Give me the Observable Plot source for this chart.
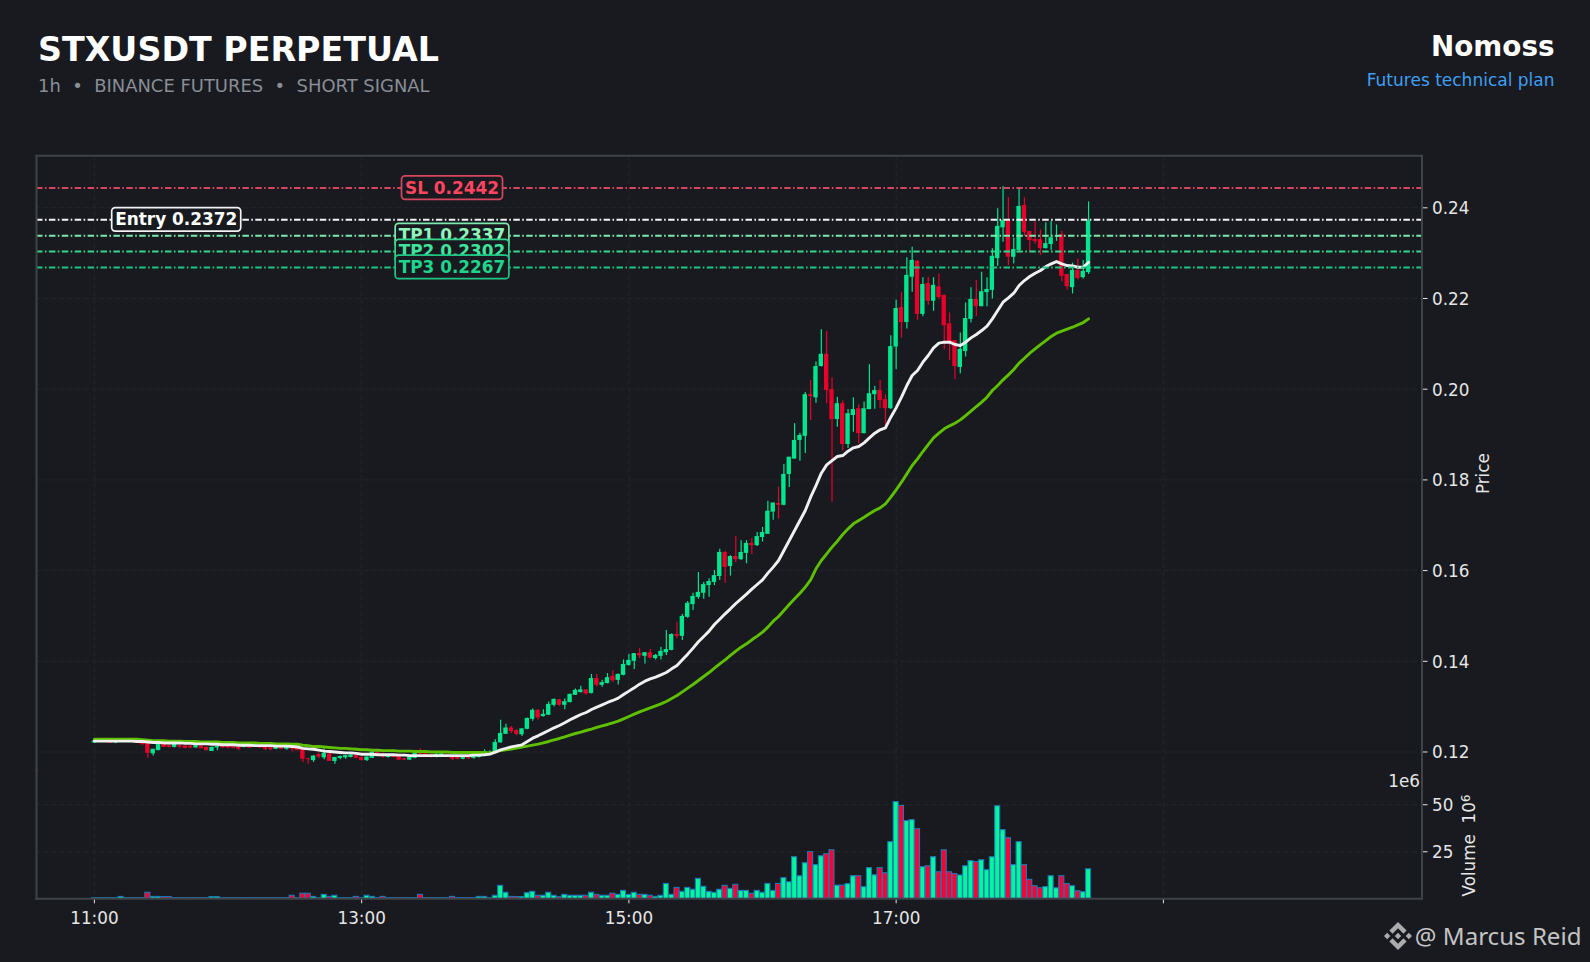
<!DOCTYPE html>
<html><head><meta charset="utf-8">
<script src="https://cdn.jsdelivr.net/npm/d3@7"></script>
<script src="https://cdn.jsdelivr.net/npm/@observablehq/plot@0.6"></script>
<style>
html,body{margin:0;padding:0;background:#181a20;width:1590px;height:962px;overflow:hidden;font-family:"DejaVu Sans",sans-serif}
#page{position:relative;width:1590px;height:962px}
#page svg.plot{position:absolute;left:0;top:0;background:transparent!important}
.t{position:absolute;white-space:pre;line-height:1}
</style></head><body><div id="page">
<div class="t" id="title" style="left:38px;top:33px;font-size:33.3px;font-weight:700;color:#fff">STXUSDT PERPETUAL</div>
<div class="t" id="sub" style="left:38px;top:77px;font-size:17.95px;color:#8a8e95">1h  •  BINANCE FUTURES  •  SHORT SIGNAL</div>
<div class="t" id="brand" style="right:35.5px;top:33px;font-size:27.8px;font-weight:700;color:#fff">Nomoss</div>
<div class="t" id="tag" style="right:35.5px;top:72px;font-size:17px;color:#3f9ff0">Futures technical plan</div>
<svg id="logo" style="position:absolute;left:1384px;top:922px;opacity:.8" width="28" height="28" viewBox="0 0 126.61 126.61"><path fill="#d0d0d0" d="M38.73 53.2l24.59-24.58 24.6 24.6 14.3-14.31L63.32 0 24.42 38.9zM0 63.31l14.3-14.31 14.31 14.31L14.3 77.61zM38.73 73.41l24.59 24.59 24.6-24.6 14.31 14.29-38.9 38.91-38.91-38.88zM98 63.31l14.3-14.31 14.31 14.3-14.31 14.32zM77.83 63.3L63.32 48.78 52.59 59.51l-1.24 1.23-2.54 2.54 14.51 14.5 14.51-14.47z"/></svg>
<div class="t" id="mark" style="right:8.5px;top:923.5px;font-size:24.1px;font-family:'Noto Sans';color:#c4c4c4">@ Marcus Reid</div>
</div>
<script>
const opens=[
.1220,.1222,.1222,.1223,.1220,.1222,.1222,.1223,.1223,.1222,
.1220,.1196,.1203,.1218,.1214,.1210,.1214,.1213,.1213,.1209,
.1213,.1210,.1201,.1209,.1212,.1212,.1211,.1210,.1210,.1213,
.1211,.1213,.1210,.1209,.1206,.1211,.1206,.1211,.1209,.1206,
.1185,.1181,.1194,.1187,.1196,.1179,.1186,.1187,.1188,.1192,
.1188,.1181,.1186,.1200,.1196,.1188,.1192,.1191,.1185,.1182,
.1186,.1199,.1196,.1194,.1188,.1191,.1193,.1189,.1189,.1184,
.1189,.1186,.1188,
.1198,.1197,.1200,.1220,.1239,.1253,.1247,.1238,.1250,.1272,
.1292,.1278,.1281,.1303,.1315,.1303,.1309,.1325,.1331,.1337,
.1329,.1362,.1347,.1351,.1367,.1358,.1369,.1391,.1400,.1417,
.1411,.1419,.1406,.1411,.1419,.1424,.1459,.1455,.1497,.1525,
.1541,.1550,.1567,.1574,.1587,.1640,.1609,.1631,.1624,.1638,
.1660,.1655,.1673,.1680,.1729,.1748,
.1744,.1812,.1846,.1887,.1896,.1988,.1981,.2050,.2077,.1999,
.1933,.1968,.1878,.1942,.1957,.1902,.1955,.1988,.1997,.1977,
.1957,.2093,.2180,.2147,.2247,.2282,.2165,.2233,.2194,.2226,
.2207,.2144,.2107,.2048,.2083,.2154,.2198,.2182,.2213,.2218,
.2288,.2356,.2372,.2291,.2306,.2405,.2348,.2330,.2330,.2310,
.2319,.2336,.2341,.2253,.2224,.2262,.2246,.2257];
const highs=[
.1224,.1224,.1224,.1224,.1223,.1224,.1223,.1224,.1224,.1223,
.1221,.1206,.1218,.1219,.1216,.1217,.1216,.1214,.1214,.1215,
.1215,.1211,.1211,.1213,.1213,.1213,.1213,.1212,.1216,.1215,
.1217,.1214,.1211,.1211,.1212,.1212,.1213,.1212,.1210,.1207,
.1186,.1192,.1198,.1207,.1198,.1188,.1191,.1193,.1194,.1193,
.1189,.1189,.1201,.1202,.1198,.1194,.1194,.1192,.1186,.1189,
.1198,.1207,.1198,.1195,.1196,.1198,.1195,.1191,.1190,.1191,
.1190,.1191,.1193,
.1205,.1203,.1227,.1270,.1261,.1256,.1249,.1251,.1275,.1295,
.1293,.1293,.1310,.1317,.1316,.1317,.1328,.1339,.1345,.1337,
.1371,.1371,.1358,.1373,.1379,.1372,.1403,.1415,.1417,.1428,
.1419,.1426,.1415,.1431,.1468,.1461,.1486,.1503,.1532,.1550,
.1596,.1574,.1582,.1600,.1647,.1642,.1633,.1675,.1666,.1666,
.1671,.1684,.1695,.1753,.1749,.1784,
.1834,.1850,.1924,.1903,.1993,.2019,.2060,.2131,.2127,.2025,
.1982,.1974,.1955,.1981,.1966,.1972,.2054,.2006,.2019,.1988,
.2118,.2196,.2213,.2290,.2313,.2284,.2246,.2247,.2246,.2254,
.2207,.2168,.2107,.2124,.2190,.2224,.2240,.2258,.2246,.2310,
.2398,.2447,.2422,.2333,.2442,.2422,.2348,.2370,.2351,.2367,
.2370,.2362,.2348,.2253,.2278,.2287,.2284,.2413];
const lows=[
.1219,.1221,.1222,.1219,.1218,.1222,.1222,.1222,.1219,.1215,
.1186,.1191,.1203,.1210,.1209,.1209,.1207,.1207,.1207,.1208,
.1207,.1202,.1201,.1203,.1208,.1207,.1207,.1203,.1209,.1208,
.1210,.1208,.1203,.1203,.1205,.1205,.1204,.1200,.1203,.1177,
.1173,.1177,.1185,.1183,.1179,.1173,.1183,.1184,.1187,.1185,
.1180,.1179,.1186,.1194,.1186,.1187,.1187,.1181,.1181,.1181,
.1185,.1192,.1192,.1187,.1187,.1190,.1188,.1181,.1183,.1183,
.1183,.1184,.1187,
.1196,.1196,.1200,.1220,.1239,.1240,.1236,.1234,.1249,.1268,
.1270,.1277,.1281,.1299,.1301,.1293,.1308,.1325,.1330,.1325,
.1328,.1343,.1343,.1350,.1353,.1348,.1368,.1389,.1382,.1406,
.1394,.1405,.1403,.1403,.1413,.1423,.1450,.1446,.1495,.1512,
.1537,.1537,.1541,.1567,.1578,.1572,.1588,.1618,.1623,.1615,
.1635,.1653,.1663,.1680,.1711,.1714,
.1743,.1783,.1846,.1841,.1858,.1931,.1969,.2049,.1968,.1751,
.1916,.1863,.1869,.1905,.1880,.1902,.1955,.1956,.1957,.1918,
.1955,.2043,.2113,.2133,.2214,.2152,.2160,.2185,.2172,.2197,
.2087,.2063,.2021,.2034,.2071,.2146,.2160,.2182,.2182,.2199,
.2271,.2324,.2273,.2276,.2302,.2337,.2302,.2320,.2295,.2309,
.2306,.2326,.2237,.2218,.2210,.2241,.2243,.2253];
const closes=[
.1224,.1223,.1223,.1219,.1222,.1223,.1223,.1222,.1220,.1216,
.1197,.1206,.1218,.1210,.1210,.1217,.1211,.1208,.1209,.1214,
.1207,.1203,.1210,.1212,.1209,.1209,.1208,.1206,.1215,.1209,
.1216,.1209,.1206,.1205,.1211,.1206,.1212,.1206,.1203,.1184,
.1183,.1191,.1189,.1197,.1179,.1188,.1190,.1192,.1193,.1186,
.1181,.1189,.1200,.1196,.1189,.1193,.1188,.1182,.1182,.1188,
.1197,.1195,.1192,.1188,.1195,.1196,.1189,.1184,.1184,.1190,
.1185,.1190,.1192,
.1200,.1199,.1221,.1241,.1253,.1245,.1239,.1251,.1274,.1292,
.1275,.1283,.1305,.1316,.1303,.1311,.1327,.1336,.1337,.1328,
.1362,.1347,.1353,.1364,.1357,.1371,.1393,.1402,.1417,.1412,
.1419,.1407,.1413,.1422,.1426,.1459,.1455,.1499,.1528,.1543,
.1552,.1569,.1576,.1589,.1640,.1607,.1631,.1624,.1640,.1660,
.1655,.1675,.1684,.1731,.1749,.1744,
.1812,.1850,.1887,.1898,.1988,.1984,.2050,.2077,.1997,.1933,
.1968,.1878,.1946,.1955,.1902,.1957,.1990,.1997,.1975,.1957,
.2094,.2178,.2147,.2251,.2284,.2165,.2231,.2194,.2229,.2202,
.2140,.2103,.2050,.2088,.2156,.2198,.2182,.2215,.2220,.2293,
.2359,.2372,.2291,.2308,.2403,.2346,.2328,.2326,.2310,.2321,
.2334,.2337,.2249,.2226,.2262,.2244,.2260,.2371];
const maFast=[
.1224,.1224,.1224,.1224,.1224,.1224,.1224,.1224,.1223,.1223,
.1222,.1221,.1221,.1220,.1220,.1220,.1220,.1219,.1219,.1218,
.1218,.1218,.1217,.1217,.1216,.1216,.1216,.1215,.1215,.1215,
.1214,.1214,.1214,.1214,.1213,.1213,.1213,.1212,.1211,.1208,
.1207,.1206,.1204,.1202,.1201,.1200,.1199,.1198,.1198,.1197,
.1195,.1195,.1195,.1194,.1194,.1194,.1194,.1193,.1193,.1192,
.1192,.1192,.1192,.1192,.1192,.1192,.1192,.1192,.1192,.1192,
.1192,.1193,.1193,
.11938,.11953,.11997,.12048,.12078,.12114,.12136,.12158,.12232,.12305,
.12357,.12416,.12474,.12533,.12585,.12644,.12710,.12769,.12827,.12871,
.12938,.12989,.13040,.13092,.13136,.13187,.13268,.13342,.13415,.13496,
.13562,.13614,.13650,.13702,.13753,.13834,.13908,.14033,.14158,.14290,
.14430,.14547,.14665,.14812,.14929,.15047,.15157,.15275,.15378,.15481,
.15591,.15694,.15797,.15944,.16076,.16223,.16444,.16664,
.16884,.17105,.17325,.17619,.17876,.18148,.18332,.18427,.18516,.18538,
.18633,.18707,.18736,.18817,.18927,.19030,.19104,.19148,.19383,.19589,
.19824,.20081,.20302,.20412,.20596,.20743,.20912,.21015,.21037,.21037,
.20985,.20963,.21037,.21132,.21206,.21294,.21390,.21551,.21735,.21919,
.22014,.22117,.22286,.22396,.22485,.22558,.22617,.22705,.22764,.22815,
.22764,.22727,.22720,.22690,.22690,.22800];
const maSlow=[
.1228,.1228,.1228,.1228,.1228,.1228,.1228,.1228,.1228,.1227,
.1226,.1225,.1225,.1225,.1224,.1224,.1224,.1223,.1223,.1223,
.1222,.1222,.1222,.1222,.1221,.1221,.1221,.1220,.1220,.1220,
.1220,.1219,.1219,.1219,.1218,.1218,.1218,.1217,.1217,.1215,
.1214,.1212,.1212,.1211,.1210,.1209,.1208,.1208,.1207,.1206,
.1205,.1205,.1204,.1204,.1203,.1203,.1203,.1202,.1202,.1202,
.1201,.1201,.1201,.1200,.1200,.1200,.1200,.1199,.1199,.1199,
.1199,.1199,.1199,
.11982,.11982,.11997,.12034,.12048,.12063,.12085,.12107,.12129,.12151,
.12173,.12203,.12232,.12269,.12298,.12335,.12372,.12408,.12438,.12474,
.12504,.12541,.12577,.12607,.12644,.12680,.12732,.12783,.12835,.12886,
.12930,.12974,.13018,.13062,.13114,.13180,.13246,.13327,.13408,.13489,
.13577,.13665,.13753,.13849,.13945,.14033,.14128,.14224,.14312,.14386,
.14474,.14555,.14643,.14753,.14885,.14988,.15120,.15253,
.15377,.15502,.15635,.15796,.16039,.16223,.16370,.16517,.16649,.16796,
.16921,.17031,.17105,.17178,.17252,.17325,.17384,.17472,.17619,.17781,
.17950,.18133,.18317,.18464,.18626,.18780,.18927,.19030,.19126,.19192,
.19251,.19324,.19420,.19515,.19618,.19714,.19824,.19971,.20081,.20206,
.20316,.20434,.20574,.20684,.20794,.20890,.20985,.21073,.21162,.21235,
.21279,.21323,.21367,.21419,.21470,.21551];
const volumes=[
.3,.3,.3,.3,.3,1,.3,.3,.3,.3,
3.2,1,1,.9,.9,.3,.3,.3,.3,.3,
.3,.3,.9,.9,.3,.3,.3,.3,.3,.3,
.3,.3,.3,.3,.3,.3,.3,1.6,.3,2.7,
2.7,1,.3,2.1,1,1.6,.3,.3,.3,1,
.3,1.6,1,.3,1,.3,.3,.3,.3,.3,
.3,2.1,.3,.3,.3,.3,.3,1,.3,.3,
.3,.3,1,
1,.3,1.6,6.9,3.2,1,.9,.9,3,3.7,
1.6,1.6,3.2,1.6,.9,2.1,1.6,1.6,1.6,1.6,
3.2,2.1,1.6,1.6,2.7,2.1,4.2,2.1,3.2,2.1,
2.1,1.6,1,1.6,7.9,2.1,5.8,3.7,5.8,4.8,
10.6,6.4,3.7,3.2,4.8,6.9,5.3,7.4,4.2,4.2,
2.7,4.2,3.2,7.9,4.2,7.9,
11,8.8,22.1,12,18.9,24.8,17.9,22.6,23.7,25.8,
7,7,7.8,12,12,6.2,16.3,12.5,16.3,13.6,
30.1,51.4,49.4,41.3,41.8,37,16.8,17.3,22.1,14.1,
25.8,14.1,13.1,12.4,17.3,20,19.5,20.5,15.2,22.1,
49.2,36.5,32.2,17.9,30.1,17.9,10.1,6.7,5.6,6.2,
12,5.6,12,7.8,6.7,4,3.5,15.7];
const priceTicks=[.12,.14,.16,.18,.20,.22,.24];
const volumeTicks=[25,50];
const timeTicks=[0,50,100,150,200];
const timeLabels=["11:00","13:00","15:00","17:00",""];
const levelNames=["SL","Entry","TP1","TP2","TP3"];
const levelValues=[.2442,.2372,.2337,.2302,.2267];
const levelLabelAt=[67,15.4,67,67,67];
const levelLineColors=["#d4475e","#f2f2f2","#7de8ac","#35d58d","#1fc582"];
const levelTextColors=["#ff4560","#ffffff","#8ff5bb","#3fe39c","#1fd48c"];

const BG="#181a20",GRID="#23262c",EDGE="#3e4249",TICK="#e6e6e6";
const UP="#00e68f",DOWN="#e8002b",VUP="#00f79b",VDOWN="#ff0033",VEDGE="#1f77b4";
const W=1590,L=36,R=168.5;
const xDomain=[(L-93.9)/5.345,(W-R-93.9)/5.345];
const candles=opens.map((o,i)=>({i,o,h:highs[i],l:lows[i],c:closes[i],v:volumes[i],col:closes[i]>=o}));
const levels=levelNames.map((n,k)=>({n,v:levelValues[k],at:levelLabelAt[k],line:levelLineColors[k],text:levelTextColors[k]}));
const FONT="DejaVu Sans";
const tickStyle={fontFamily:FONT,fontSize:16.8};

function labelBoxes(index,{x,y}){
  const g=d3.create("svg:g");
  const ctx=document.createElement("canvas").getContext("2d");
  ctx.font=`bold 16.9px "${FONT}"`;
  for(const d of levels){
    const s=`${d.n} ${d.v.toFixed(4)}`,w=ctx.measureText(s).width+7,h=23.5,cx=x(d.at),cy=y(d.v)-.7;
    const b=g.append("g");
    b.append("rect").attr("x",cx-w/2).attr("y",cy-h/2).attr("width",w).attr("height",h).attr("rx",3.5)
      .attr("fill",BG).attr("stroke",d.line).attr("stroke-width",1.7);
    b.append("text").attr("x",cx).attr("y",cy).attr("dy","0.36em").attr("text-anchor","middle")
      .attr("font-family",FONT).attr("font-weight",700).attr("font-size",16.9).attr("fill",d.text).text(s);
  }
  return g.node();
}
function volumeLabel(index,scales,values,{width,height,marginRight,marginTop,marginBottom}){
  const t=d3.create("svg:text")
    .attr("transform",`translate(${width-marginRight+48},${(marginTop+height-marginBottom)/2+11.4}) rotate(-90)`)
    .attr("text-anchor","middle").attr("dy","0.32em")
    .attr("font-family",FONT).attr("font-size",16.8).attr("fill",TICK);
  t.append("tspan").text("Volume\u00a0\u00a010");
  t.append("tspan").attr("dy","-0.45em").attr("font-size","0.7em").text("6");
  return t.node();
}

const pricePlot=Plot.plot({
  width:W,height:770,marginTop:155.3,marginBottom:0,marginLeft:L,marginRight:R,
  style:{background:"transparent",overflow:"visible"},
  x:{domain:xDomain,axis:null},
  y:{domain:[.11592,.25147],axis:null},
  marks:[
    Plot.gridX(timeTicks,{stroke:GRID,strokeOpacity:1,strokeWidth:1,strokeDasharray:"5,3"}),
    Plot.gridY(priceTicks,{stroke:GRID,strokeOpacity:1,strokeWidth:1,strokeDasharray:"5,3"}),
    Plot.ruleX(candles,{x:"i",y1:"l",y2:"h",stroke:d=>d.col?UP:DOWN,strokeWidth:1.2}),
    Plot.rect(candles,{x1:d=>d.i-.41,x2:d=>d.i+.41,y1:"o",y2:"c",fill:d=>d.col?UP:DOWN}),
    Plot.lineY(maSlow,{x:(d,i)=>i,y:d=>d,stroke:"#5fc000",strokeWidth:2.9}),
    Plot.lineY(maFast,{x:(d,i)=>i,y:d=>d,stroke:"#f0f0f0",strokeWidth:2.9}),
    Plot.ruleY(levels,{y:"v",dy:-.7,stroke:"line",strokeWidth:2,strokeDasharray:"6.5,2.4,1.6,2.4"}),
    labelBoxes,
    Plot.axisY(priceTicks,{anchor:"right",tickSize:5,tickPadding:5,stroke:TICK,fill:TICK,tickFormat:d3.format(".2f"),label:null,...tickStyle}),
    Plot.text(["Price"],{frameAnchor:"right",textAnchor:"middle",rotate:-90,dx:62,dy:10.5,fill:TICK,...tickStyle}),
    Plot.frame({anchor:"top",stroke:EDGE,strokeWidth:2}),
    Plot.frame({anchor:"left",stroke:EDGE,strokeWidth:2}),
    Plot.frame({anchor:"right",stroke:EDGE,strokeWidth:2})
  ]
});
const volumePlot=Plot.plot({
  width:W,height:962,marginTop:770,marginBottom:63.7,marginLeft:L,marginRight:R,
  style:{background:"transparent",overflow:"visible"},
  x:{domain:xDomain,axis:null},
  y:{domain:[0,68.2],axis:null},
  marks:[
    Plot.gridX(timeTicks,{stroke:GRID,strokeOpacity:1,strokeWidth:1,strokeDasharray:"5,3"}),
    Plot.gridY(volumeTicks,{stroke:GRID,strokeOpacity:1,strokeWidth:1,strokeDasharray:"5,3"}),
    Plot.rect(candles,{x1:d=>d.i-.468,x2:d=>d.i+.468,y1:0,y2:"v",fill:d=>d.col?VUP:VDOWN,stroke:VEDGE,strokeWidth:1.1}),
    Plot.axisY(volumeTicks,{anchor:"right",tickSize:5,tickPadding:5,stroke:TICK,fill:TICK,label:null,...tickStyle}),
    Plot.axisX(timeTicks,{anchor:"bottom",tickSize:5,tickPadding:8,stroke:TICK,fill:TICK,label:null,tickFormat:(d,k)=>timeLabels[timeTicks.indexOf(d)],...tickStyle}),
    Plot.text(["1e6"],{frameAnchor:"top-right",dx:-2,dy:5,fill:TICK,...tickStyle}),
    volumeLabel,
    Plot.frame({anchor:"bottom",stroke:EDGE,strokeWidth:2}),
    Plot.frame({anchor:"left",stroke:EDGE,strokeWidth:2}),
    Plot.frame({anchor:"right",stroke:EDGE,strokeWidth:2})
  ]
});
for(const p of [pricePlot,volumePlot]){
  d3.select(p).selectAll('g[aria-label="y-axis tick label"]').attr("transform",function(){return (this.getAttribute("transform")||"")+" translate(0,1)";});
}
const page=document.getElementById("page");
pricePlot.classList.add("plot");volumePlot.classList.add("plot");
page.insertBefore(pricePlot,page.firstChild);
page.insertBefore(volumePlot,pricePlot.nextSibling);
</script></body></html>
